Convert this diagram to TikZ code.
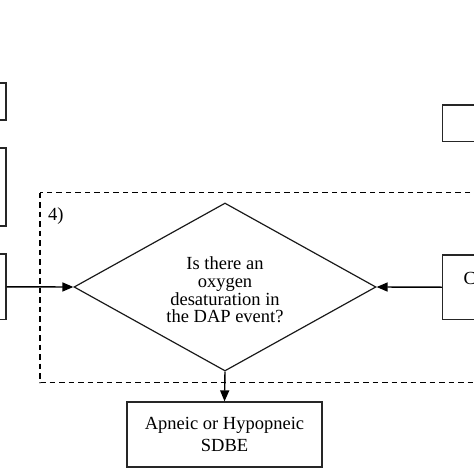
\documentclass[tikz,border=0pt]{standalone}
\usepackage{fontspec}
\setmainfont{Liberation Serif}
\usetikzlibrary{shapes.geometric,arrows.meta}
\begin{document}
\begin{tikzpicture}[x=1pt,y=-1pt,
  box/.style={draw=black!85, line width=1.25pt, inner sep=0pt, align=center,
    font=\fontsize{18.5}{22.3}\selectfont},
  dia/.style={draw=black!90, line width=1.2pt, diamond, inner sep=0pt},
  arr/.style={draw=black, line width=1.4pt, -{Triangle[length=11pt,width=9pt]}},
  txt/.style={inner sep=0pt, align=center, font=\fontsize{18.5}{17.6}\selectfont},
  grp/.style={draw=black, line width=1.25pt, dash pattern=on 5.5pt off 4pt}]
\useasboundingbox (0,0) rectangle (474,474);
\clip (0,0) rectangle (474,474);
% dashed group frame
\draw[grp] (40,192.5) rectangle (540,382.5);
\node[txt, anchor=base west] (lab) at (48,220) {4)};
% left boxes (cut by the edge)
\node[box, minimum width=66pt, minimum height=37pt] (l1) at (-27,101.5) {};
\node[box, minimum width=66pt, minimum height=78pt] (l2) at (-27,187) {};
\node[box, minimum width=66pt, minimum height=65.5pt] (l3) at (-27,286.8) {};
% right boxes (cut by the edge)
\node[box, minimum width=77.5pt, minimum height=36.5pt] (r1) at (481.25,123.25) {};
\node[box, minimum width=77.5pt, minimum height=64.5pt] (rc) at (481.25,287.2) {};
\node[txt, anchor=base west] (ctext) at (463.5,284) {C};
% decision
\node[dia, minimum width=302pt, minimum height=168pt] (d) at (225,287) {};
\node[txt] (dtext) at (225,290) {Is there an\\oxygen\\desaturation in\\the DAP event?};
% result
\node[box, minimum width=195pt, minimum height=65pt] (res) at (224.5,434.5)
  {Apneic or Hypopneic\\SDBE};
% connectors
\draw[arr] (l3.east) -- (d.west);
\draw[arr] (rc.west) -- (d.east);
\draw[arr] (d.south) -- (res.north);
\end{tikzpicture}
\end{document}
